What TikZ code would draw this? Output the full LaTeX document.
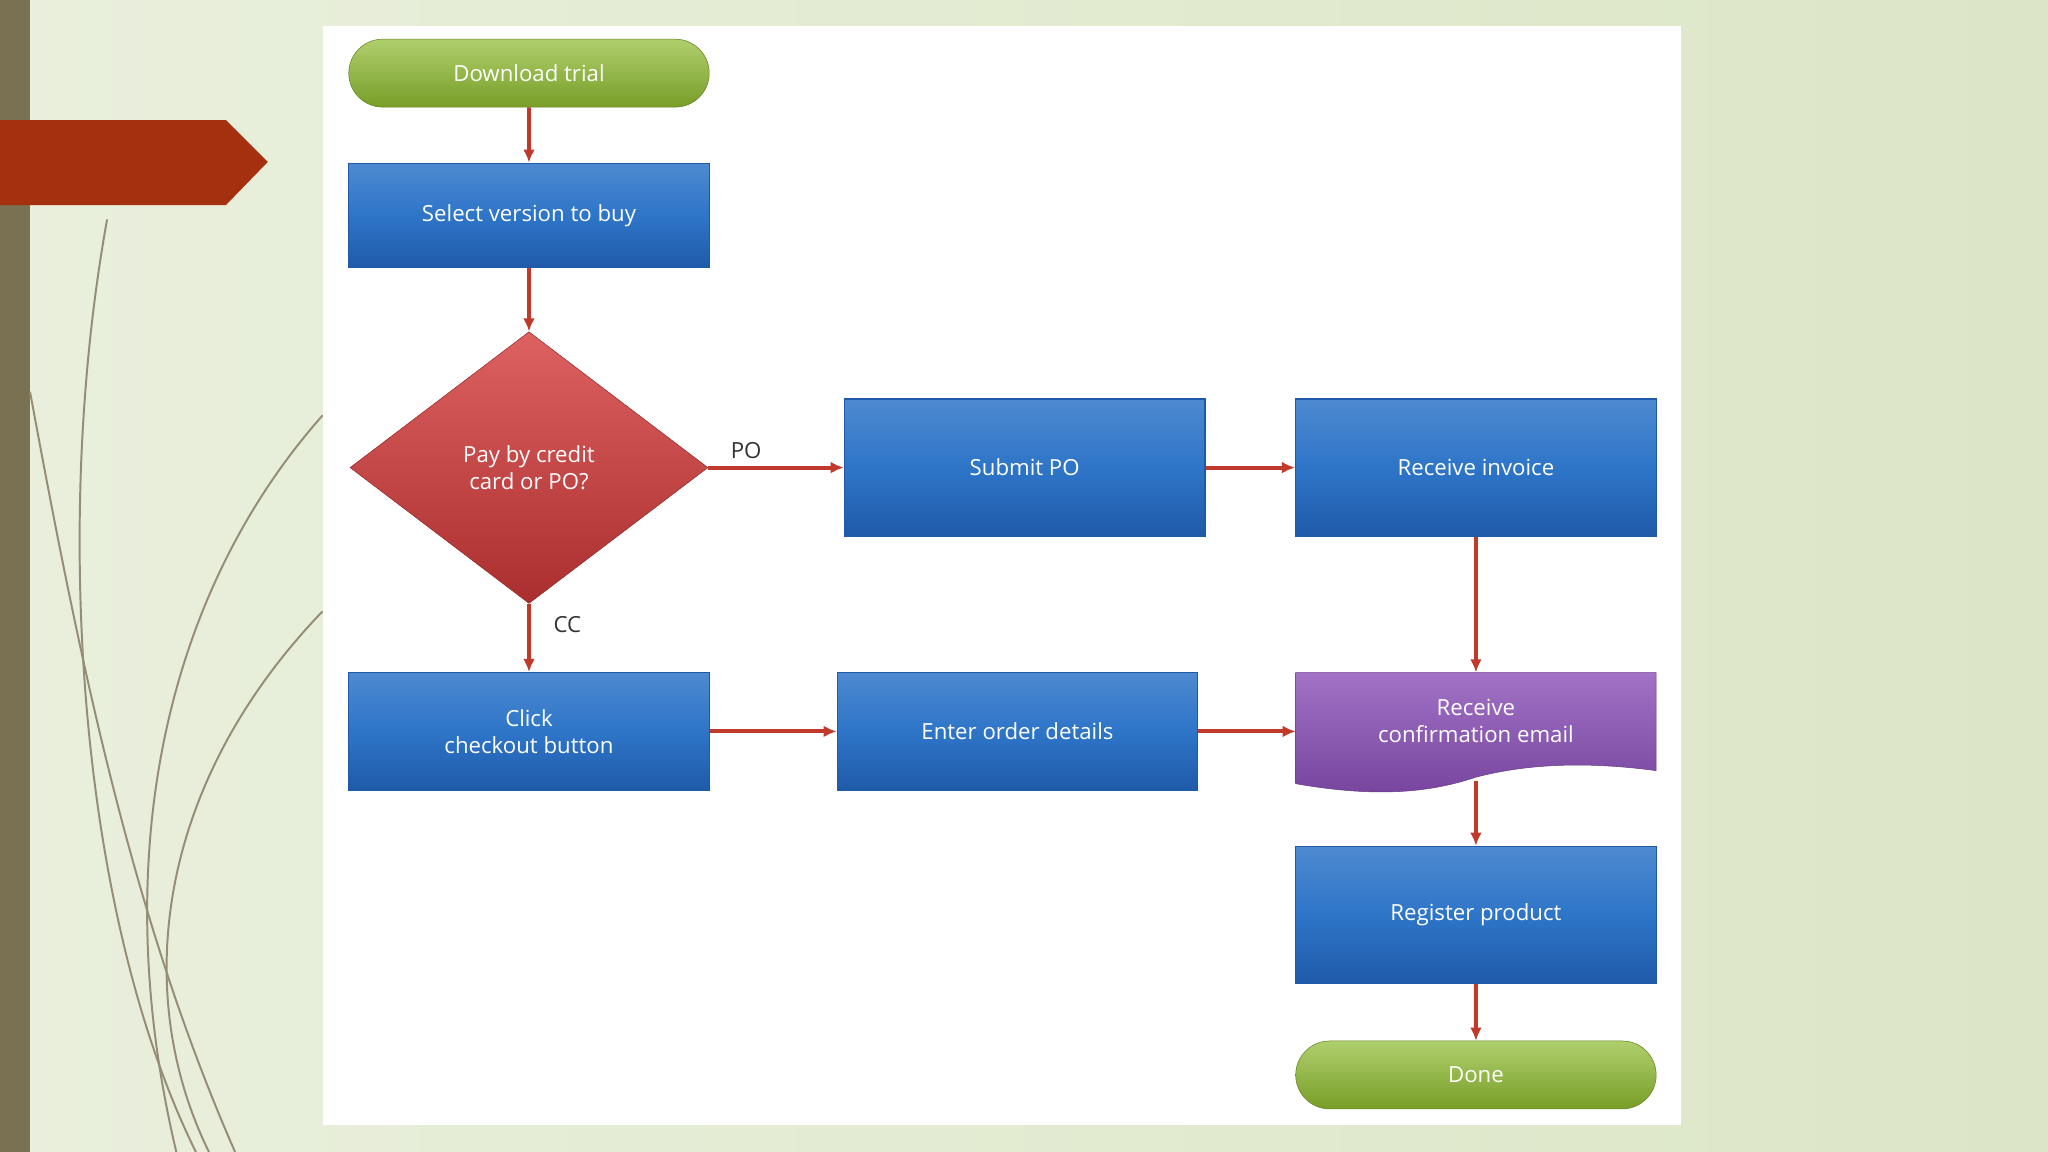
\documentclass[tikz,border=0pt]{standalone}
\usepackage{fontspec}
\setmainfont{Open Sans}
\usetikzlibrary{shapes.geometric,shapes.misc,arrows.meta}
\definecolor{bgA}{HTML}{E9EFDC}
\definecolor{bgB}{HTML}{DCE6C6}
\definecolor{barC}{HTML}{7A7052}
\definecolor{banner}{HTML}{A5300F}
\definecolor{boxB}{HTML}{2E75C8}
\definecolor{boxBd}{HTML}{1F5AA8}
\definecolor{grn}{HTML}{8DBA2E}
\definecolor{dia}{HTML}{D63A3A}
\definecolor{purp}{HTML}{8A4FB8}
\definecolor{arr}{HTML}{C0392B}
\begin{document}
\begin{tikzpicture}[x=1pt,y=-1pt,
  txt/.style={text=white,font=\fontsize{17}{21}\selectfont,align=center},
  box/.style={txt,draw=boxBd,line width=1pt,top color=boxB!85!white,bottom color=boxBd,middle color=boxB,minimum width=276pt,inner sep=0pt},
  pill/.style={txt,rounded rectangle,draw=grn!70!black,top color=grn!70!white,bottom color=grn!85!black,minimum width=276pt,minimum height=52pt,inner sep=0pt},
  conn/.style={draw=arr,line width=3pt,-{Latex[length=10pt,width=9pt]}},
  lbl/.style={font=\fontsize{17}{21}\selectfont,text=black!80}]
\useasboundingbox (0,0) rectangle (1568,882);
\shade[left color=bgA,right color=bgB] (0,0) rectangle (1568,882);
\fill[barC] (0,0) rectangle (23,882);
\fill[banner] (0,92) -- (173,92) -- (205,124) -- (173,157) -- (0,157) -- cycle;
\begin{scope}[draw=barC!80,line width=1.5pt]
\draw (82,168) .. controls (40,400) and (60,700) .. (150,882);
\draw (23,300) .. controls (60,500) and (100,700) .. (180,882);
\draw (247,318) .. controls (130,450) and (80,650) .. (135,882);
\draw (247,468) .. controls (120,600) and (100,760) .. (160,882);
\end{scope}
\fill[white] (247,20) rectangle (1287,861);
\node[pill] (dl) at (405,56) {Download trial};
\node[box,minimum height=80pt] (sel) at (405,165) {Select version to buy};
\node[diamond,draw=dia!70!black,top color=dia!80!white,bottom color=dia!80!black,minimum width=274pt,minimum height=208pt,aspect=1.32,inner sep=0pt,txt] (pay) at (405,358) {Pay by credit\\card or PO?};
\node[box,minimum height=105pt] (po) at (784.5,358) {Submit PO};
\node[box,minimum height=105pt] (inv) at (1130,358) {Receive invoice};
\node[box,minimum height=90pt] (clk) at (405,560) {Click\\checkout button};
\node[box,minimum height=90pt] (ent) at (779,560) {Enter order details};
\node[minimum width=276pt,minimum height=80pt,inner sep=0pt] (conf) at (1130,555) {};
\draw[purp!75!black,top color=purp!80!white,bottom color=purp!85!black] (992,515) -- (1268,515) -- (1268,590) .. controls (1230,585) and (1180,582) .. (1130,595) .. controls (1100,605) and (1060,612) .. (992,600) -- cycle;
\node[txt] at (1130,552) {Receive\\confirmation email};
\node[box,minimum height=105pt] (reg) at (1130,700.5) {Register product};
\node[pill] (done) at (1130,823) {Done};
\draw[conn] (dl) -- (sel);
\draw[conn] (sel) -- (pay);
\draw[conn] (pay.east) -- node[lbl,above,pos=0.28,yshift=2pt]{PO} (po.west);
\draw[conn] (po) -- (inv);
\draw[conn] (inv) -- (conf.north);
\draw[conn] (pay.south) -- node[lbl,right,pos=0.3,xshift=14pt]{CC} (clk.north);
\draw[conn] (clk) -- (ent);
\draw[conn] (ent.east) -- (992,560);
\draw[conn] (1130,598) -- (reg.north);
\draw[conn] (reg) -- (done);
\end{tikzpicture}
\end{document}
